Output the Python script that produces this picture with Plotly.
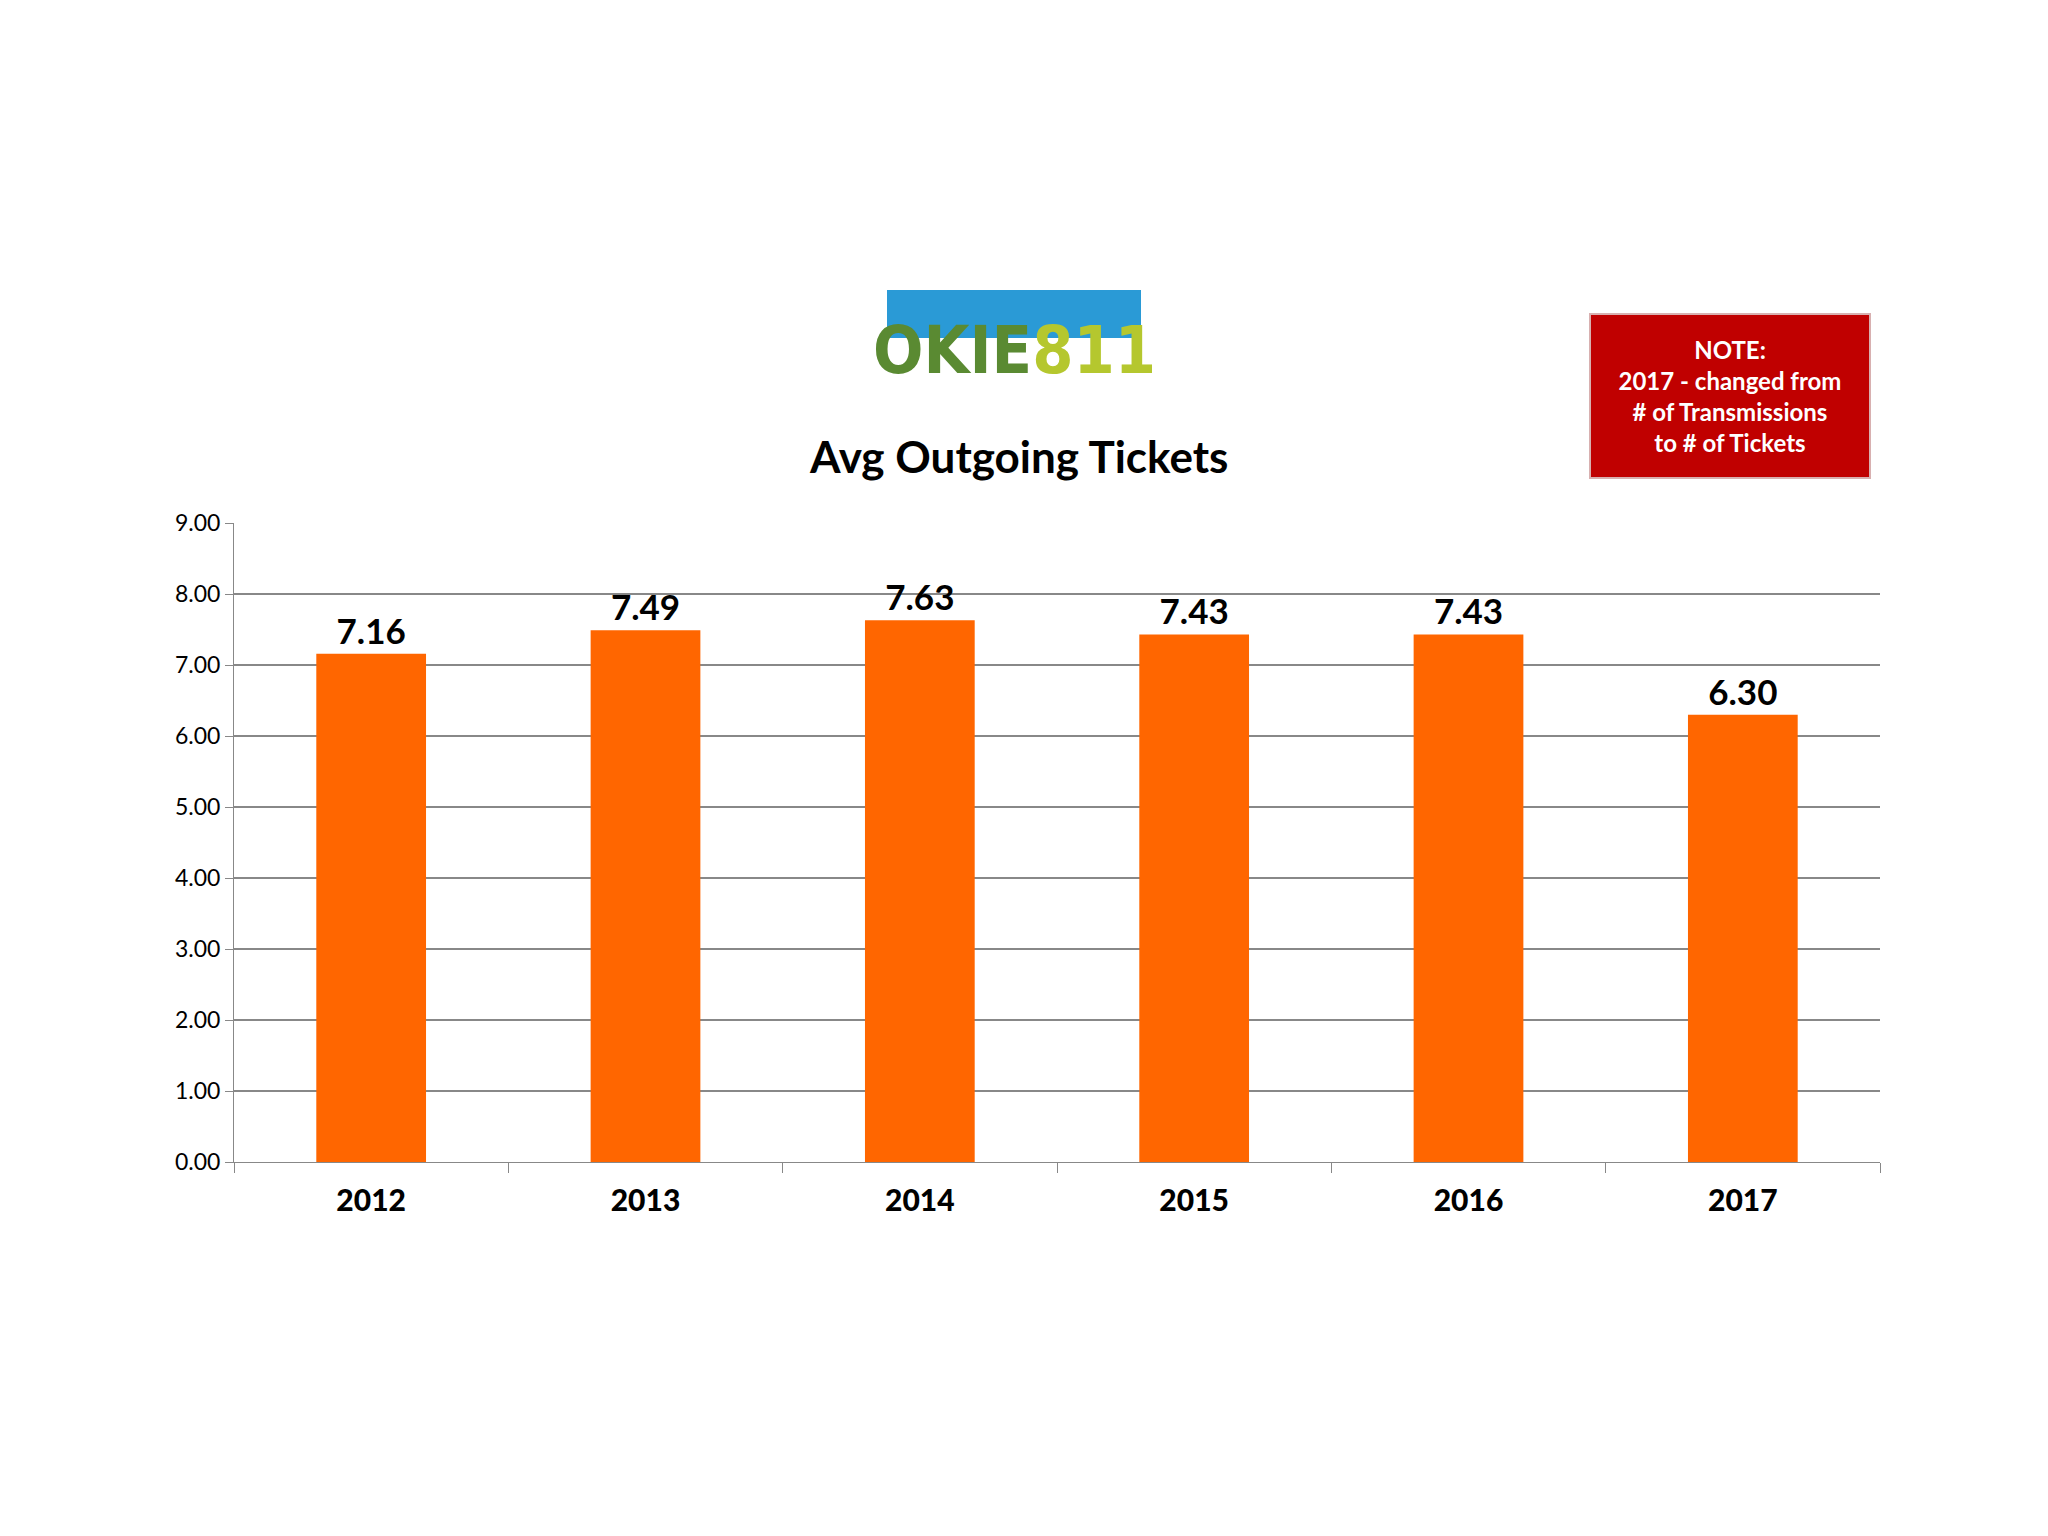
import plotly.graph_objects as go

years = ["2012", "2013", "2014", "2015", "2016", "2017"]
values = [7.16, 7.49, 7.63, 7.43, 7.43, 6.30]
labels = ["7.16", "7.49", "7.63", "7.43", "7.43", "6.30"]
yticks = [0, 1, 2, 3, 4, 5, 6, 7, 8, 9]

W, H = 2048, 1536
L, R, T, B = 226, 1872, 515, 1154  # plot area in pixels
pw, ph = R - L, B - T

def px(x):
    return (x - L) / pw

def py(y):
    return (B - y) / ph

fig = go.Figure(go.Bar(
    x=years, y=values, text=["<b>%s</b>" % s for s in labels], textposition="outside",
    textfont=dict(size=35, color="black", family="Lato"),
    marker=dict(color="#FF6600", line=dict(width=0)), width=0.4, cliponaxis=False))

def ann(text, x, y, size, color, **kw):
    return dict(text=text, x=px(x), y=py(y), xref="paper", yref="paper", xanchor="center",
                yanchor="middle", showarrow=False, font=dict(size=size, color=color, family=kw.pop("family", "Lato")), **kw)

fig.update_layout(
    width=W, height=H, paper_bgcolor="white", plot_bgcolor="white",
    margin=dict(l=L, r=W - R, t=T, b=H - B),
    showlegend=False, font=dict(family="Lato"),
    xaxis=dict(showline=True, linecolor="#888", ticks="outside", tickcolor="#888", ticklen=10,
               tickson="boundaries", tickfont=dict(size=30, color="black", family="Lato Black"), ticklabelstandoff=12),
    yaxis=dict(range=[0, 9], tickvals=yticks, tickformat=".2f", showgrid=True, gridcolor="#888",
               gridwidth=1.5, showline=True, linecolor="#888", ticks="outside", tickcolor="#888",
               ticklen=8, tickfont=dict(size=23, color="black"), zeroline=False),
    annotations=[
        ann("<b>Avg Outgoing Tickets</b>", 1010, 448, 44, "black"),
        ann("<b>NOTE:<br>2017 - changed from<br># of Transmissions<br>to # of Tickets</b>", 1722, 388, 24, "white",
            bgcolor="#C00000", bordercolor="#D8B0B0", borderwidth=2, width=276, height=160, align="center"),
        ann("<b>OKIE<span style='color:#B5C72E'>811</span></b>", 1006, 342, 66, "#5A8A32",
            family="DejaVu Sans Condensed"),
    ],
    shapes=[dict(type="rect", xref="paper", yref="paper", x0=px(879), x1=px(1133), y0=py(330), y1=py(282),
                 fillcolor="#2A9AD6", line=dict(width=0), layer="below")],
)
fig.write_html("out.html")
